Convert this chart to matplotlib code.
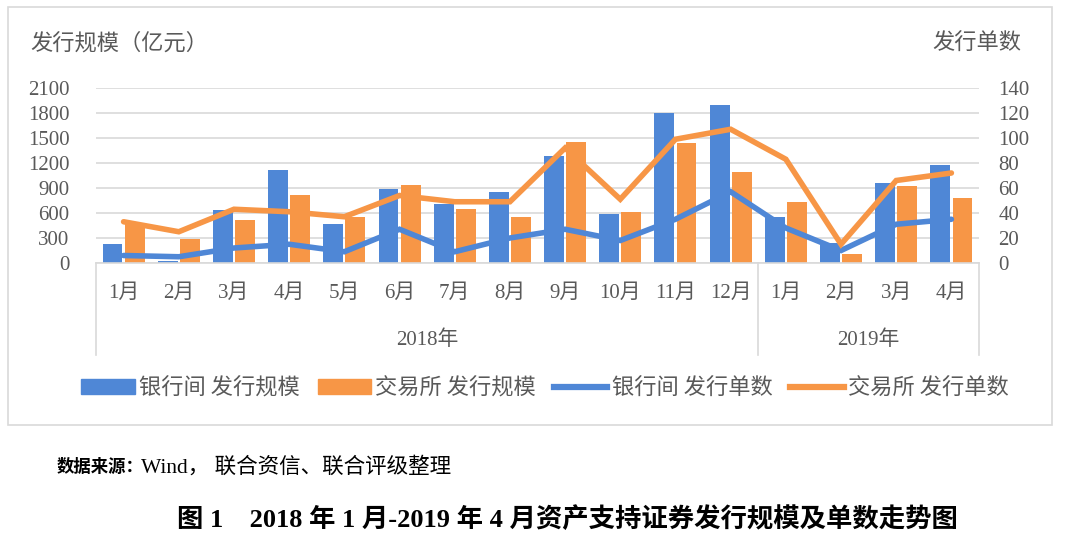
import matplotlib
matplotlib.use("Agg")
import matplotlib.pyplot as plt
import matplotlib.transforms as mtransforms
from matplotlib.patches import Rectangle
from matplotlib.lines import Line2D
import numpy as np

months = ["1月", "2月", "3月", "4月", "5月", "6月", "7月", "8月", "9月", "10月", "11月", "12月",
          "1月", "2月", "3月", "4月"]
years = ["2018年", "2019年"]
year_counts = [12, 4]

bank_amount = [228, 30, 640, 1112, 472, 892, 712, 852, 1280, 592, 1800, 1896, 552, 240, 960, 1176]
exch_amount = [484, 292, 520, 812, 552, 932, 648, 552, 1452, 612, 1444, 1096, 732, 112, 928, 784]
bank_count = [6, 5, 12, 15, 9, 27, 9, 20, 27, 18, 35, 57, 28, 10, 31, 35]
exch_count = [33, 25, 43, 41, 37, 54, 49, 49, 92, 51, 99, 107, 83, 15, 66, 72]

left_ticks = [0, 300, 600, 900, 1200, 1500, 1800, 2100]
right_ticks = [0, 20, 40, 60, 80, 100, 120, 140]

BLUE = "#4F87D6"
ORANGE = "#F79646"
GRAY_TXT = "#595959"
GRID = "#D9D9D9"

serif_cjk = ["Liberation Serif", "Noto Sans CJK SC"]
sans_cjk = ["Noto Sans CJK SC", "DejaVu Sans"]

fig = plt.figure(figsize=(10.8, 5.38), dpi=100)
W, H = 1080, 538

# outer chart border
fig.patches.append(Rectangle((8 / W, 1 - 425 / H), (1052 - 8) / W, (425 - 7) / H,
                             transform=fig.transFigure, fill=False, edgecolor=GRID, linewidth=1.2))

ax = fig.add_axes([96 / W, 1 - 263 / H, (979 - 96) / W, 175 / H])
ax2 = ax.twinx()

n = len(months)
x = np.arange(n)
bw = 0.36
off = 0.2
ax.bar(x - off, bank_amount, width=bw, color=BLUE, zorder=2)
ax.bar(x + off, exch_amount, width=bw, color=ORANGE, zorder=2)
ax2.plot(x, bank_count, color=BLUE, linewidth=4, solid_capstyle="round", solid_joinstyle="miter")
ax2.plot(x, exch_count, color=ORANGE, linewidth=4, solid_capstyle="round", solid_joinstyle="miter")

ax.set_xlim(-0.5, n - 0.5)
ax.set_ylim(0, 2100)
ax2.set_ylim(0, 140)
ax.set_yticks(left_ticks)
ax2.set_yticks(right_ticks)
ax.set_yticklabels([str(v) for v in left_ticks], fontsize=15, color=GRAY_TXT, family=serif_cjk)
ax2.set_yticklabels([str(v) for v in right_ticks], fontsize=15, color=GRAY_TXT, family=serif_cjk)
ax.tick_params(axis="y", length=0, pad=19)
ax2.tick_params(axis="y", length=0, pad=14)
ax.set_xticks([])
ax.grid(axis="y", color=GRID, linewidth=1.2, zorder=0)
ax.set_axisbelow(True)
for a in (ax, ax2):
    for s in ("top", "left", "right", "bottom"):
        a.spines[s].set_visible(False)
ax.patch.set_visible(False)

# category axis (two-level)
trans = mtransforms.blended_transform_factory(ax.transData, ax.transAxes)
ax.plot([-0.5, n - 0.5], [0, 0], transform=trans, color=GRID, linewidth=1.2, clip_on=False)
for i, m in enumerate(months):
    ax.text(i, -0.175, m, transform=trans, ha="center", va="center", fontsize=15,
            color=GRAY_TXT, family=serif_cjk)
start = -0.5
div_y = -(355 - 263) / 175
ax.plot([start, start], [0, div_y], transform=trans, color=GRID, linewidth=1.2, clip_on=False)
for yr, cnt in zip(years, year_counts):
    end = start + cnt
    ax.text((start + end) / 2, -0.44, yr, transform=trans, ha="center", va="center",
            fontsize=15, color=GRAY_TXT, family=serif_cjk)
    ax.plot([end, end], [0, div_y], transform=trans, color=GRID, linewidth=1.2, clip_on=False)
    start = end

# axis titles
fig.text(30 / W, 1 - 43 / H, "发行规模（亿元）", fontsize=16, color=GRAY_TXT, family=sans_cjk,
         ha="left", va="center")
fig.text(1021 / W, 1 - 43 / H, "发行单数", fontsize=16, color=GRAY_TXT, family=sans_cjk,
         ha="right", va="center")

# legend
handles = [Rectangle((0, 0), 1, 1, color=BLUE), Rectangle((0, 0), 1, 1, color=ORANGE),
           Line2D([], [], color=BLUE, linewidth=4.5), Line2D([], [], color=ORANGE, linewidth=4.5)]
labels = ["银行间 发行规模", "交易所 发行规模", "银行间 发行单数", "交易所 发行单数"]
leg = fig.legend(handles, labels, loc="center", bbox_to_anchor=(545 / W, 1 - 388 / H), ncol=4,
                 frameon=False, prop={"family": sans_cjk, "size": 16}, handlelength=2.4,
                 handleheight=0.65, handletextpad=0.2, columnspacing=0.8)
for t in leg.get_texts():
    t.set_color(GRAY_TXT)

# source and caption
fig.text(57 / W, 1 - 467 / H, "数据来源：", fontsize=12.5, fontweight="bold", family=sans_cjk,
         ha="left", va="center", color="black")
fig.text(141 / W, 1 - 467 / H, "Wind， 联合资信、联合评级整理", fontsize=15.5, family=serif_cjk,
         ha="left", va="center", color="black")
fig.text(567 / W, 1 - 519 / H, "图 1　2018 年 1 月-2019 年 4 月资产支持证券发行规模及单数走势图",
         fontsize=19, fontweight="bold", family=serif_cjk, ha="center", va="center", color="black")

fig.savefig("out.png", dpi=100)
